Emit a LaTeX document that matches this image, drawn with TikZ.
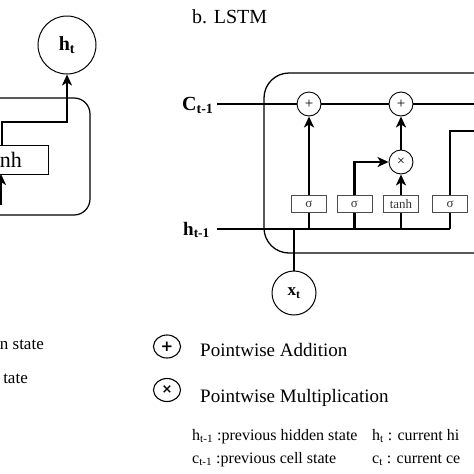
\documentclass[tikz,border=0pt]{standalone}
\usepackage{fontspec}
\setmainfont{Liberation Serif}
\newfontfamily\symfont{DejaVu Sans}
\usetikzlibrary{arrows.meta,shapes.geometric}
\newcommand\fsz[1]{\fontsize{#1}{#1}\selectfont}
\begin{document}
\begin{tikzpicture}[x=1pt,y=-1pt,
  thk/.style={line width=2.1pt},
  arr/.style={line width=2.1pt,-{Stealth[length=11pt,width=10pt,inset=3pt]}},
  op/.style={circle,draw,line width=0.9pt,minimum size=24pt,inner sep=0pt},
  legop/.style={ellipse,draw,line width=1.1pt,minimum width=27pt,minimum height=23pt,inner sep=0pt},
  gate/.style={draw=black!70,line width=0.9pt,minimum width=35pt,minimum height=17pt,inner sep=0pt,text=black!80,font=\fsz{13}},
  state/.style={circle,draw,line width=1pt,inner sep=0pt},
  txt/.style={inner sep=0pt,anchor=base west}]
\useasboundingbox (0,0) rectangle (474,474);
\clip (0,0) rectangle (474,474);
% ---------- left cell (cut off) ----------
\draw[line width=1.2pt,rounded corners=16pt] (-40,98) rectangle (90,215);
\node[draw,line width=1pt,minimum width=89pt,minimum height=29pt,inner sep=0pt,anchor=north east] (tanhL) at (49,145) {};
\node[inner sep=0pt,anchor=base east] (tanhLtxt) at (22,167) {\fsz{22}nh};
\node[state,minimum size=58pt] (ht) at (67,45) {\fsz{20}\textbf{h\textsubscript{t}}};
\coordinate (tanhLtop) at (2,145);
\coordinate (bendL) at (2,122);
\coordinate (tanhLbot) at (1,174);
\coordinate (inL) at (1,205);
\draw[arr] (tanhLtop) -- (bendL) -| (ht.south);
\draw[arr] (inL) -- (tanhLbot);
\node[inner sep=0pt,anchor=base east] (legL1) at (44,349) {\fsz{17}n state};
\node[inner sep=0pt,anchor=base east] (legL2) at (28,383) {\fsz{17}tate};
% ---------- LSTM cell ----------
\node[txt] (title) at (192,23) {\fsz{20}b. LSTM};
\draw[line width=1.3pt,rounded corners=25pt] (264,73) rectangle (540,253);
\node[txt] (clab) at (182,110) {\fsz{20}\textbf{C\textsubscript{t-1}}};
\node[txt] (hlab) at (183,235) {\fsz{19}\textbf{h\textsubscript{t-1}}};
\coordinate (cstart) at (217,104);
\coordinate (cend) at (480,104);
\coordinate (hstart) at (217,229);
\coordinate (hend) at (450,229);
\coordinate (oend) at (480,131);
\node[op] (plus1) at (309,104) {\fsz{15}+};
\node[op] (plus2) at (401,104) {\fsz{15}+};
\node[op] (times) at (401,162) {\fsz{14}×};
\node[gate] (g1) at (309,204) {σ};
\node[gate] (g2) at (354.5,204) {σ};
\node[gate] (g3) at (401,204) {tanh};
\node[gate] (g4) at (450,204) {σ};
\draw[thk] (cstart) -- (plus1) -- (plus2) -- (cend);
\draw[thk] (hstart) -- (hend);
\draw[thk] (g1.south) -- (g1.south |- hstart);
\draw[thk] (g2.south) -- (g2.south |- hstart);
\draw[thk] (g3.south) -- (g3.south |- hstart);
\draw[thk] (g4.south) -- (hend);
\draw[arr] (g1.north) -- (plus1.south);
\draw[arr] (g2.north) |- (times.west);
\draw[arr] (g3.north) -- (times.south);
\draw[arr] (times.north) -- (plus2.south);
\draw[thk] (g4.north) |- (oend);
\node[state,minimum size=44pt] (xt) at (294,293) {\fsz{17}\textbf{x\textsubscript{t}}};
\draw[thk] (xt.north) -- (xt.north |- hstart);
% ---------- legend ----------
\node[legop] (legadd) at (167,346.5) {\symfont\bfseries\fsz{15}+};
\node[legop] (legmul) at (167,390) {\symfont\bfseries\fsz{13}×};
\node[txt] (addtxt) at (200,356) {\fsz{19}Pointwise Addition};
\node[txt] (multxt) at (200,402) {\fsz{19}Pointwise Multiplication};
\node[txt] (leg1) at (192,440) {\fsz{16}h\textsubscript{t-1} :previous hidden state};
\node[txt] (leg2) at (192,463) {\fsz{16}c\textsubscript{t-1} :previous cell state};
\node[txt] (leg3) at (372,440) {\fsz{16}h\textsubscript{t} : current hi};
\node[txt] (leg4) at (372,463) {\fsz{16}c\textsubscript{t} : current ce};
\end{tikzpicture}
\end{document}
